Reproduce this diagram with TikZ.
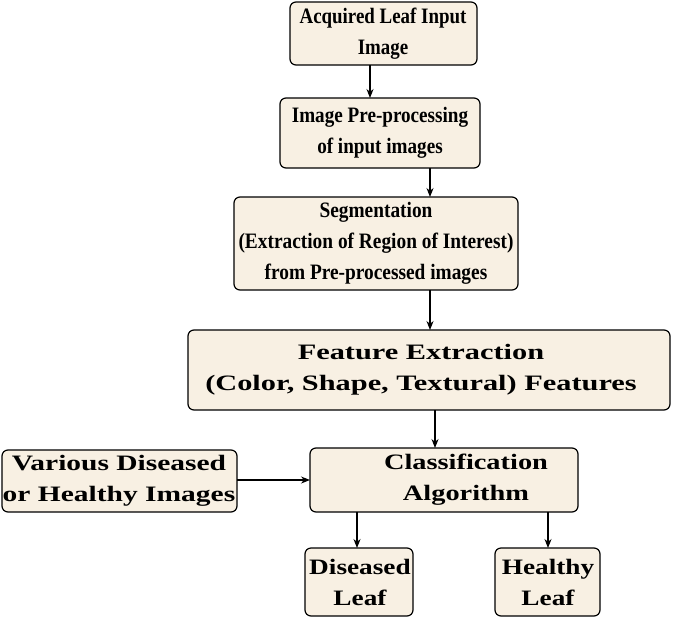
\documentclass[tikz,border=0pt]{standalone}
\usepackage{fontspec}
\setmainfont{Liberation Serif}
\usetikzlibrary{arrows.meta}
\begin{document}
\begin{tikzpicture}[x=1pt,y=-1pt,
  box/.style={draw=black,line width=1.2pt,rounded corners=6pt,fill=boxfill},
  lbl/.style={font=\bfseries\fontsize{22}{31}\selectfont,align=center,transform shape},
  arr/.style={-{Stealth[length=9pt,width=7pt]},line width=1.2pt}]
\definecolor{boxfill}{HTML}{F8F0E3}
\useasboundingbox (0,0) rectangle (685,616);
\draw[box] (290,2) rectangle (477,65);
\node[lbl,xscale=0.86] (t1) at (383,34) {Acquired Leaf Input\\Image};
\draw[box] (280,98) rectangle (480,168);
\node[lbl,xscale=0.87] (t2) at (380,133) {Image Pre-processing\\of input images};
\draw[box] (234,197) rectangle (518,290);
\node[lbl,xscale=0.88] (t3) at (376,243) {Segmentation\\(Extraction of Region of Interest)\\from Pre-processed images};
\draw[box] (188,330) rectangle (670,410);
\node[lbl,xscale=1.38] (t4) at (421,370) {Feature Extraction\\(Color, Shape, Textural) Features};
\draw[box] (310,448) rectangle (578,512);
\node[lbl,xscale=1.29] (t5) at (466,480) {Classification\\Algorithm};
\draw[box] (2,450) rectangle (237,512);
\node[lbl,xscale=1.34] (t6) at (119,481) {Various Diseased\\or Healthy Images};
\draw[box] (305,548) rectangle (413,616);
\node[lbl,xscale=1.24] (t7) at (360,582) {Diseased\\Leaf};
\draw[box] (495,548) rectangle (600,616);
\node[lbl,xscale=1.24] (t8) at (548,582) {Healthy\\Leaf};
\coordinate (a1) at (370,65); \coordinate (a2) at (370,98);
\draw[arr] (a1) -- (a2);
\coordinate (c1) at (430,168); \coordinate (c2) at (430,197);
\draw[arr] (c1) -- (c2);
\coordinate (d1) at (430,290); \coordinate (d2) at (430,330);
\draw[arr] (d1) -- (d2);
\coordinate (e1) at (435,410); \coordinate (e2) at (435,448);
\draw[arr] (e1) -- (e2);
\coordinate (f1) at (237,480); \coordinate (f2) at (310,480);
\draw[arr] (f1) -- (f2);
\coordinate (g1) at (357,512); \coordinate (g2) at (357,548);
\draw[arr] (g1) -- (g2);
\coordinate (h1) at (548,512); \coordinate (h2) at (548,548);
\draw[arr] (h1) -- (h2);
\end{tikzpicture}
\end{document}
